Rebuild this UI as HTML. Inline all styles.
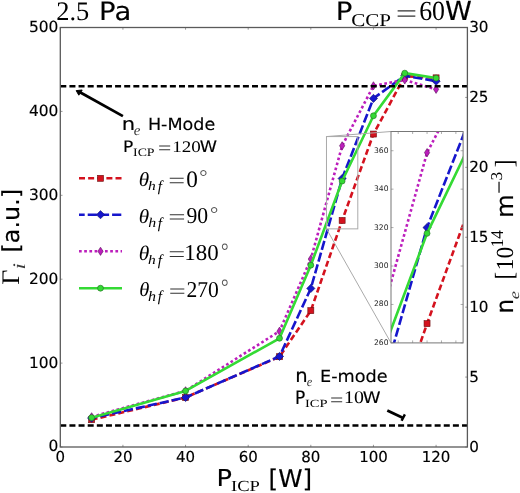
<!DOCTYPE html><html><head><meta charset="utf-8"><title>Ion flux vs ICP power</title><style>
html,body{margin:0;padding:0;background:#fff;width:520px;height:493px;overflow:hidden}
svg{display:block;text-rendering:geometricPrecision;filter:blur(0.4px)}
text.s{stroke:#000;stroke-width:0.15px}
.s{font-family:"DejaVu Sans","Liberation Sans",sans-serif}
.r{font-family:"Liberation Serif","DejaVu Serif",serif}
.i{font-family:"Liberation Serif","DejaVu Serif",serif;font-style:italic}
</style></head><body>
<svg width="520" height="493" viewBox="0 0 520 493">
<rect width="520" height="493" fill="#fff"/>
<defs><clipPath id="cm"><rect x="60.30" y="27.50" width="407.10" height="419.50"/></clipPath>
<clipPath id="ci"><rect x="391.00" y="131.50" width="72.10" height="211.40"/></clipPath></defs>
<path d="M60.30 447.00v-2.2M60.30 27.50v2.2M122.93 447.00v-2.2M122.93 27.50v2.2M185.56 447.00v-2.2M185.56 27.50v2.2M248.19 447.00v-2.2M248.19 27.50v2.2M310.82 447.00v-2.2M310.82 27.50v2.2M373.45 447.00v-2.2M373.45 27.50v2.2M436.08 447.00v-2.2M436.08 27.50v2.2M60.30 447.00h2.2M60.30 363.10h2.2M60.30 279.20h2.2M60.30 195.30h2.2M60.30 111.40h2.2M60.30 27.50h2.2M467.40 447.00h-2.2M467.40 377.08h-2.2M467.40 307.17h-2.2M467.40 237.25h-2.2M467.40 167.33h-2.2M467.40 97.42h-2.2M467.40 27.50h-2.2" stroke="#999" stroke-width="1" fill="none"/>
<g clip-path="url(#cm)">
<polyline points="91.62,419.73 185.56,397.50 279.51,356.72 310.82,310.66 342.14,220.47 373.45,134.05 404.77,76.16 436.08,77.84" fill="none" stroke="#d4121e" stroke-width="2.6" stroke-dasharray="6 3.13" stroke-dashoffset="0" stroke-linejoin="round"/>
<rect x="88.62" y="416.73" width="6.00" height="6.00" fill="#d4121e" stroke="#6a1010" stroke-width="0.6"/>
<rect x="182.56" y="394.50" width="6.00" height="6.00" fill="#d4121e" stroke="#6a1010" stroke-width="0.6"/>
<rect x="276.51" y="353.72" width="6.00" height="6.00" fill="#d4121e" stroke="#6a1010" stroke-width="0.6"/>
<rect x="307.82" y="307.66" width="6.00" height="6.00" fill="#d4121e" stroke="#6a1010" stroke-width="0.6"/>
<rect x="339.14" y="217.47" width="6.00" height="6.00" fill="#d4121e" stroke="#6a1010" stroke-width="0.6"/>
<rect x="370.45" y="131.05" width="6.00" height="6.00" fill="#d4121e" stroke="#6a1010" stroke-width="0.6"/>
<rect x="401.77" y="73.16" width="6.00" height="6.00" fill="#d4121e" stroke="#6a1010" stroke-width="0.6"/>
<rect x="433.08" y="74.84" width="6.00" height="6.00" fill="#d4121e" stroke="#6a1010" stroke-width="0.6"/>
<polyline points="91.62,418.05 185.56,397.50 279.51,356.39 310.82,288.43 342.14,178.52 373.45,98.40 404.77,75.74 436.08,81.20" fill="none" stroke="#1616cc" stroke-width="2.6" stroke-dasharray="9.2 3" stroke-dashoffset="3.5" stroke-linejoin="round"/>
<path d="M91.62 413.95L95.72 418.05L91.62 422.15L87.52 418.05Z" fill="#1616cc" stroke="#10106a" stroke-width="0.6"/>
<path d="M185.56 393.40L189.66 397.50L185.56 401.60L181.46 397.50Z" fill="#1616cc" stroke="#10106a" stroke-width="0.6"/>
<path d="M279.51 352.29L283.61 356.39L279.51 360.49L275.41 356.39Z" fill="#1616cc" stroke="#10106a" stroke-width="0.6"/>
<path d="M310.82 284.33L314.92 288.43L310.82 292.53L306.72 288.43Z" fill="#1616cc" stroke="#10106a" stroke-width="0.6"/>
<path d="M342.14 174.42L346.24 178.52L342.14 182.62L338.04 178.52Z" fill="#1616cc" stroke="#10106a" stroke-width="0.6"/>
<path d="M373.45 94.30L377.55 98.40L373.45 102.50L369.35 98.40Z" fill="#1616cc" stroke="#10106a" stroke-width="0.6"/>
<path d="M404.77 71.64L408.87 75.74L404.77 79.84L400.67 75.74Z" fill="#1616cc" stroke="#10106a" stroke-width="0.6"/>
<path d="M436.08 77.10L440.18 81.20L436.08 85.30L431.98 81.20Z" fill="#1616cc" stroke="#10106a" stroke-width="0.6"/>
<polyline points="91.62,416.80 185.56,390.79 279.51,331.22 310.82,259.06 342.14,145.80 373.45,85.81 404.77,79.94 436.08,89.33" fill="none" stroke="#bc1ebc" stroke-width="2.6" stroke-dasharray="2.7 2.5" stroke-dashoffset="0" stroke-linejoin="round"/>
<path d="M91.62 412.70L94.22 416.80L91.62 420.90L89.02 416.80Z" fill="#bc1ebc" stroke="#5a105a" stroke-width="0.6"/>
<path d="M185.56 386.69L188.16 390.79L185.56 394.89L182.96 390.79Z" fill="#bc1ebc" stroke="#5a105a" stroke-width="0.6"/>
<path d="M279.51 327.12L282.11 331.22L279.51 335.32L276.91 331.22Z" fill="#bc1ebc" stroke="#5a105a" stroke-width="0.6"/>
<path d="M310.82 254.96L313.42 259.06L310.82 263.16L308.22 259.06Z" fill="#bc1ebc" stroke="#5a105a" stroke-width="0.6"/>
<path d="M342.14 141.70L344.74 145.80L342.14 149.90L339.54 145.80Z" fill="#bc1ebc" stroke="#5a105a" stroke-width="0.6"/>
<path d="M373.45 81.71L376.05 85.81L373.45 89.91L370.85 85.81Z" fill="#bc1ebc" stroke="#5a105a" stroke-width="0.6"/>
<path d="M404.77 75.84L407.37 79.94L404.77 84.04L402.17 79.94Z" fill="#bc1ebc" stroke="#5a105a" stroke-width="0.6"/>
<path d="M436.08 85.23L438.68 89.33L436.08 93.43L433.48 89.33Z" fill="#bc1ebc" stroke="#5a105a" stroke-width="0.6"/>
<polyline points="91.62,417.63 185.56,390.95 279.51,338.27 310.82,265.19 342.14,181.04 373.45,115.76 404.77,73.14 436.08,78.09" fill="none" stroke="#34da34" stroke-width="2.6" stroke-linejoin="round"/>
<circle cx="91.62" cy="417.63" r="2.95" fill="#34da34" stroke="#2a7a2a" stroke-width="0.7"/>
<circle cx="185.56" cy="390.95" r="2.95" fill="#34da34" stroke="#2a7a2a" stroke-width="0.7"/>
<circle cx="279.51" cy="338.27" r="2.95" fill="#34da34" stroke="#2a7a2a" stroke-width="0.7"/>
<circle cx="310.82" cy="265.19" r="2.95" fill="#34da34" stroke="#2a7a2a" stroke-width="0.7"/>
<circle cx="342.14" cy="181.04" r="2.95" fill="#34da34" stroke="#2a7a2a" stroke-width="0.7"/>
<circle cx="373.45" cy="115.76" r="2.95" fill="#34da34" stroke="#2a7a2a" stroke-width="0.7"/>
<circle cx="404.77" cy="73.14" r="2.95" fill="#34da34" stroke="#2a7a2a" stroke-width="0.7"/>
<circle cx="436.08" cy="78.09" r="2.95" fill="#34da34" stroke="#2a7a2a" stroke-width="0.7"/>
<line x1="60.30" y1="86.23" x2="467.40" y2="86.23" stroke="#000" stroke-width="2.5" stroke-dasharray="6 3.13"/>
<line x1="60.30" y1="425.61" x2="467.40" y2="425.61" stroke="#000" stroke-width="2.5" stroke-dasharray="6 3.13"/>
</g>
<rect x="326.48" y="136.57" width="31.32" height="92.29" fill="none" stroke="#aaa" stroke-width="1"/>
<path d="M326.48 136.57L391.00 131.50M326.48 228.86L391.00 342.90" stroke="#aaa" stroke-width="1" fill="none"/>
<rect x="391.00" y="131.50" width="72.10" height="211.40" fill="#fff"/>
<g clip-path="url(#ci)">
<polyline points="-149.75,780.11 66.55,729.19 282.85,635.79 354.95,530.28 427.05,323.68 499.15,125.73 571.25,-6.87 643.35,-3.03" fill="none" stroke="#d4121e" stroke-width="2.6" stroke-dasharray="6 3.13" stroke-dashoffset="0"/>
<rect x="-152.75" y="777.11" width="6.00" height="6.00" fill="#d4121e" stroke="#6a1010" stroke-width="0.6"/>
<rect x="63.55" y="726.19" width="6.00" height="6.00" fill="#d4121e" stroke="#6a1010" stroke-width="0.6"/>
<rect x="279.85" y="632.79" width="6.00" height="6.00" fill="#d4121e" stroke="#6a1010" stroke-width="0.6"/>
<rect x="351.95" y="527.28" width="6.00" height="6.00" fill="#d4121e" stroke="#6a1010" stroke-width="0.6"/>
<rect x="424.05" y="320.68" width="6.00" height="6.00" fill="#d4121e" stroke="#6a1010" stroke-width="0.6"/>
<rect x="496.15" y="122.73" width="6.00" height="6.00" fill="#d4121e" stroke="#6a1010" stroke-width="0.6"/>
<rect x="568.25" y="-9.87" width="6.00" height="6.00" fill="#d4121e" stroke="#6a1010" stroke-width="0.6"/>
<rect x="640.35" y="-6.03" width="6.00" height="6.00" fill="#d4121e" stroke="#6a1010" stroke-width="0.6"/>
<polyline points="-149.75,776.27 66.55,729.19 282.85,635.02 354.95,479.35 427.05,227.59 499.15,44.06 571.25,-7.83 643.35,4.66" fill="none" stroke="#1616cc" stroke-width="2.6" stroke-dasharray="9.2 3" stroke-dashoffset="3.5"/>
<path d="M-149.75 772.17L-145.65 776.27L-149.75 780.37L-153.85 776.27Z" fill="#1616cc" stroke="#10106a" stroke-width="0.6"/>
<path d="M66.55 725.09L70.65 729.19L66.55 733.29L62.45 729.19Z" fill="#1616cc" stroke="#10106a" stroke-width="0.6"/>
<path d="M282.85 630.92L286.95 635.02L282.85 639.12L278.75 635.02Z" fill="#1616cc" stroke="#10106a" stroke-width="0.6"/>
<path d="M354.95 475.25L359.05 479.35L354.95 483.45L350.85 479.35Z" fill="#1616cc" stroke="#10106a" stroke-width="0.6"/>
<path d="M427.05 223.49L431.15 227.59L427.05 231.69L422.95 227.59Z" fill="#1616cc" stroke="#10106a" stroke-width="0.6"/>
<path d="M499.15 39.96L503.25 44.06L499.15 48.16L495.05 44.06Z" fill="#1616cc" stroke="#10106a" stroke-width="0.6"/>
<path d="M571.25 -11.93L575.35 -7.83L571.25 -3.73L567.15 -7.83Z" fill="#1616cc" stroke="#10106a" stroke-width="0.6"/>
<path d="M643.35 0.56L647.45 4.66L643.35 8.76L639.25 4.66Z" fill="#1616cc" stroke="#10106a" stroke-width="0.6"/>
<polyline points="-149.75,773.39 66.55,713.81 282.85,577.36 354.95,412.09 427.05,152.64 499.15,15.23 571.25,1.78 643.35,23.30" fill="none" stroke="#bc1ebc" stroke-width="2.6" stroke-dasharray="2.7 2.5" stroke-dashoffset="0"/>
<path d="M-149.75 769.29L-147.15 773.39L-149.75 777.49L-152.35 773.39Z" fill="#bc1ebc" stroke="#5a105a" stroke-width="0.6"/>
<path d="M66.55 709.71L69.15 713.81L66.55 717.91L63.95 713.81Z" fill="#bc1ebc" stroke="#5a105a" stroke-width="0.6"/>
<path d="M282.85 573.26L285.45 577.36L282.85 581.46L280.25 577.36Z" fill="#bc1ebc" stroke="#5a105a" stroke-width="0.6"/>
<path d="M354.95 407.99L357.55 412.09L354.95 416.19L352.35 412.09Z" fill="#bc1ebc" stroke="#5a105a" stroke-width="0.6"/>
<path d="M427.05 148.54L429.65 152.64L427.05 156.74L424.45 152.64Z" fill="#bc1ebc" stroke="#5a105a" stroke-width="0.6"/>
<path d="M499.15 11.13L501.75 15.23L499.15 19.33L496.55 15.23Z" fill="#bc1ebc" stroke="#5a105a" stroke-width="0.6"/>
<path d="M571.25 -2.32L573.85 1.78L571.25 5.88L568.65 1.78Z" fill="#bc1ebc" stroke="#5a105a" stroke-width="0.6"/>
<path d="M643.35 19.20L645.95 23.30L643.35 27.40L640.75 23.30Z" fill="#bc1ebc" stroke="#5a105a" stroke-width="0.6"/>
<polyline points="-149.75,775.31 66.55,714.20 282.85,593.51 354.95,426.11 427.05,233.36 499.15,83.84 571.25,-13.79 643.35,-2.45" fill="none" stroke="#34da34" stroke-width="2.6"/>
<circle cx="-149.75" cy="775.31" r="2.95" fill="#34da34" stroke="#2a7a2a" stroke-width="0.7"/>
<circle cx="66.55" cy="714.20" r="2.95" fill="#34da34" stroke="#2a7a2a" stroke-width="0.7"/>
<circle cx="282.85" cy="593.51" r="2.95" fill="#34da34" stroke="#2a7a2a" stroke-width="0.7"/>
<circle cx="354.95" cy="426.11" r="2.95" fill="#34da34" stroke="#2a7a2a" stroke-width="0.7"/>
<circle cx="427.05" cy="233.36" r="2.95" fill="#34da34" stroke="#2a7a2a" stroke-width="0.7"/>
<circle cx="499.15" cy="83.84" r="2.95" fill="#34da34" stroke="#2a7a2a" stroke-width="0.7"/>
<circle cx="571.25" cy="-13.79" r="2.95" fill="#34da34" stroke="#2a7a2a" stroke-width="0.7"/>
<circle cx="643.35" cy="-2.45" r="2.95" fill="#34da34" stroke="#2a7a2a" stroke-width="0.7"/>
</g>
<path d="M398.21 342.90v-2.5M398.21 131.50v2.5M412.63 342.90v-2.5M412.63 131.50v2.5M427.05 342.90v-2.5M427.05 131.50v2.5M441.47 342.90v-2.5M441.47 131.50v2.5M455.89 342.90v-2.5M455.89 131.50v2.5M391.00 342.90h2.5M463.10 342.90h-2.5M391.00 304.46h2.5M463.10 304.46h-2.5M391.00 266.03h2.5M463.10 266.03h-2.5M391.00 227.59h2.5M463.10 227.59h-2.5M391.00 189.15h2.5M463.10 189.15h-2.5M391.00 150.72h2.5M463.10 150.72h-2.5" stroke="#999" stroke-width="0.8" fill="none"/>
<rect x="391.00" y="131.50" width="72.10" height="211.40" fill="none" stroke="#777" stroke-width="1"/>
<text class="s" x="388.50" y="344.90" font-size="7.6" text-anchor="end" fill="#222" style="stroke:none">260</text>
<text class="s" x="388.50" y="306.46" font-size="7.6" text-anchor="end" fill="#222" style="stroke:none">280</text>
<text class="s" x="388.50" y="268.03" font-size="7.6" text-anchor="end" fill="#222" style="stroke:none">300</text>
<text class="s" x="388.50" y="229.59" font-size="7.6" text-anchor="end" fill="#222" style="stroke:none">320</text>
<text class="s" x="388.50" y="191.15" font-size="7.6" text-anchor="end" fill="#222" style="stroke:none">340</text>
<text class="s" x="388.50" y="152.72" font-size="7.6" text-anchor="end" fill="#222" style="stroke:none">360</text>
<rect x="60.30" y="27.50" width="407.10" height="419.50" fill="none" stroke="#5a5a5a" stroke-width="1.3"/>
<text class="s" x="58.4" y="451.40" font-size="15.4" text-anchor="end">0</text>
<text class="s" x="58.4" y="367.50" font-size="15.4" text-anchor="end">100</text>
<text class="s" x="58.4" y="283.60" font-size="15.4" text-anchor="end">200</text>
<text class="s" x="58.4" y="199.70" font-size="15.4" text-anchor="end">300</text>
<text class="s" x="58.4" y="115.80" font-size="15.4" text-anchor="end">400</text>
<text class="s" x="58.4" y="31.90" font-size="15.4" text-anchor="end">500</text>
<text class="s" x="60.30" y="462" font-size="15" text-anchor="middle">0</text>
<text class="s" x="122.93" y="462" font-size="15" text-anchor="middle">20</text>
<text class="s" x="185.56" y="462" font-size="15" text-anchor="middle">40</text>
<text class="s" x="248.19" y="462" font-size="15" text-anchor="middle">60</text>
<text class="s" x="310.82" y="462" font-size="15" text-anchor="middle">80</text>
<text class="s" x="373.45" y="462" font-size="15" text-anchor="middle">100</text>
<text class="s" x="436.08" y="462" font-size="15" text-anchor="middle">120</text>
<text class="s" x="469.2" y="451.70" font-size="15.2">0</text>
<text class="s" x="469.2" y="381.78" font-size="15.2">5</text>
<text class="s" x="469.2" y="311.87" font-size="15.2">10</text>
<text class="s" x="469.2" y="241.95" font-size="15.2">15</text>
<text class="s" x="469.2" y="172.03" font-size="15.2">20</text>
<text class="s" x="469.2" y="102.12" font-size="15.2">25</text>
<text class="s" x="469.2" y="32.20" font-size="15.2">30</text>
<text class="r" transform="translate(56.24,19.67) scale(0.9799,0.9902)" font-size="27">2.5</text>
<text class="s" transform="translate(99.07,19.93) scale(1.0758,0.9932)" font-size="25.5">Pa</text>
<text class="s" transform="translate(335.83,19.92) scale(1.0833,0.9943)" font-size="25.5">P</text>
<text class="r" transform="translate(351.20,26.31) scale(1.1707,1.0052)" font-size="18">CCP</text>
<text class="r" transform="translate(395.76,22.25) scale(1.4620,0.9935)" font-size="26" fill="#333">=</text>
<text class="r" transform="translate(419.15,20.04) scale(0.9955,1.0644)" font-size="26">60</text>
<text class="s" transform="translate(445.03,19.90) scale(1.0652,1.0333)" font-size="25.5">W</text>
<text class="s" transform="translate(216.42,486.07) scale(1.0909,0.9860)" font-size="23.5">P</text>
<text class="r" transform="translate(231.02,491.06) scale(1.0914,0.9087)" font-size="17">ICP</text>
<text class="s" transform="translate(268.60,486.92) scale(1.0479,1.0305)" font-size="23.5">[W]</text>
<text class="r" transform="rotate(-90) translate(-284.87,18.88) scale(1.0950,1.0540)" font-size="24">Γ</text>
<text class="i" transform="rotate(-90) translate(-269.44,24.94) scale(1.4560,1.1006)" font-size="16" fill="#3a3a3a">i</text>
<text class="s" transform="rotate(-90) translate(-252.47,18.62) scale(1.0400,1.0173)" font-size="23">[a.u.]</text>
<text class="s" transform="rotate(-90) translate(-313.58,513.10) scale(1.0400,1.0917)" font-size="22">n</text>
<text class="i" transform="rotate(-90) translate(-299.37,518.64) scale(1.1433,0.8842)" font-size="16" fill="#3a3a3a">e</text>
<text class="r" transform="rotate(-90) translate(-279.44,513.24) scale(0.9504,1.0910)" font-size="24">[</text>
<text class="r" transform="rotate(-90) translate(-270.18,513.40) scale(0.9789,1.0247)" font-size="24">10</text>
<text class="r" transform="rotate(-90) translate(-247.30,502.93) scale(1.0786,1.1178)" font-size="16">14</text>
<text class="s" transform="rotate(-90) translate(-218.09,513.43) scale(1.1048,1.0766)" font-size="22">m</text>
<text class="r" transform="rotate(-90) translate(-194.00,506.85) scale(1.5000,1.5000)" font-size="16">−</text>
<text class="r" transform="rotate(-90) translate(-180.58,501.80) scale(1.0833,1.0273)" font-size="16">3</text>
<text class="r" transform="rotate(-90) translate(-167.37,513.30) scale(0.9504,1.0879)" font-size="24">]</text>
<text class="s" transform="translate(121.81,129.90) scale(1.2429,1.0400)" font-size="17">n</text>
<text class="i" transform="translate(133.85,134.91) scale(1.2476,1.2408)" font-size="12" fill="#3a3a3a">e</text>
<text class="s" transform="translate(147.90,129.61) scale(1.0333,0.9871)" font-size="17">H-Mode</text>
<text class="s" transform="translate(123.00,151.73) scale(1.0000,0.9270)" font-size="17">P</text>
<text class="r" transform="translate(133.02,155.89) scale(1.1542,0.9474)" font-size="12">ICP</text>
<text class="r" transform="translate(158.09,154.08) scale(1.3125,1.0200)" font-size="18" fill="#333">=</text>
<text class="r" transform="translate(172.18,152.30) scale(1.0583,0.8923)" font-size="18">120</text>
<text class="s" transform="translate(199.67,151.80) scale(1.0267,0.9231)" font-size="17">W</text>
<text class="s" transform="translate(295.18,381.78) scale(1.1531,1.1145)" font-size="17">n</text>
<text class="i" transform="translate(306.70,386.20) scale(1.0400,1.1000)" font-size="12" fill="#3a3a3a">e</text>
<text class="s" transform="translate(320.02,382.09) scale(1.0387,0.9905)" font-size="17">E-mode</text>
<text class="s" transform="translate(295.00,403.57) scale(1.0000,1.0911)" font-size="17">P</text>
<text class="r" transform="translate(305.06,407.00) scale(1.2037,0.9161)" font-size="12">ICP</text>
<text class="r" transform="translate(330.09,405.68) scale(1.3125,1.0200)" font-size="18" fill="#333">=</text>
<text class="r" transform="translate(344.12,403.13) scale(1.1029,0.9902)" font-size="18">10</text>
<text class="s" transform="translate(362.73,403.20) scale(1.0607,0.9231)" font-size="17">W</text>
<text class="i" transform="translate(138.68,185.53) scale(0.9642,0.9064)" font-size="22">θ</text>
<text class="i" transform="translate(148.11,190.14) scale(1.0003,0.8472)" font-size="15.5">h</text>
<text class="i" transform="translate(157.81,190.96) scale(0.9786,0.9786)" font-size="15.5">f</text>
<text class="r" transform="translate(168.36,187.83) scale(1.3594,1.0267)" font-size="22" fill="#333">=</text>
<text class="r" transform="translate(186.14,186.50) scale(1.0556,1.0786)" font-size="22">0</text>
<text class="r" transform="translate(199.33,182.61) scale(0.9429,0.8857)" font-size="22" fill="#555">°</text>
<text class="i" transform="translate(138.68,222.54) scale(0.9642,0.9064)" font-size="22">θ</text>
<text class="i" transform="translate(148.21,226.59) scale(1.0269,0.8698)" font-size="15.5">h</text>
<text class="i" transform="translate(157.81,227.76) scale(0.9786,0.9786)" font-size="15.5">f</text>
<text class="r" transform="translate(168.14,223.61) scale(1.3947,0.9642)" font-size="22" fill="#333">=</text>
<text class="r" transform="translate(186.39,222.95) scale(0.9874,1.0335)" font-size="22">90</text>
<text class="r" transform="translate(210.01,220.03) scale(0.9429,0.8857)" font-size="22" fill="#555">°</text>
<text class="i" transform="translate(138.82,259.60) scale(0.9778,0.9400)" font-size="22">θ</text>
<text class="i" transform="translate(148.11,264.24) scale(1.0003,0.8472)" font-size="15.5">h</text>
<text class="i" transform="translate(157.81,264.66) scale(0.9786,0.9786)" font-size="15.5">f</text>
<text class="r" transform="translate(168.30,262.39) scale(1.3691,1.0780)" font-size="22" fill="#333">=</text>
<text class="r" transform="translate(184.37,260.48) scale(1.0424,1.0300)" font-size="22">180</text>
<text class="r" transform="translate(221.04,257.50) scale(0.8571,1.0000)" font-size="22" fill="#555">°</text>
<text class="i" transform="translate(139.24,296.08) scale(0.9365,0.9149)" font-size="22">θ</text>
<text class="i" transform="translate(148.07,300.70) scale(1.0333,0.9300)" font-size="15.5">h</text>
<text class="i" transform="translate(157.81,301.36) scale(0.9786,0.9786)" font-size="15.5">f</text>
<text class="r" transform="translate(168.77,297.69) scale(1.3730,0.9449)" font-size="22" fill="#333">=</text>
<text class="r" transform="translate(186.39,296.89) scale(0.9827,1.0300)" font-size="22">270</text>
<text class="r" transform="translate(221.04,294.20) scale(0.8571,1.0000)" font-size="22" fill="#555">°</text>
<path d="M122.9 116.1L80 92.3" stroke="#000" stroke-width="2.8" fill="none"/>
<path d="M76.2 90.6L82.2 90.0L78.8 95.2Z" fill="#000" stroke="#000" stroke-width="1"/>
<path d="M387.3 410.4L403.2 417.9" stroke="#000" stroke-width="2.8" fill="none"/>
<path d="M401.6 420.8L404.9 414.4" stroke="#000" stroke-width="2.4" fill="none"/>
<line x1="79" y1="178.3" x2="122" y2="178.3" stroke="#d4121e" stroke-width="2.6" stroke-dasharray="6 3.13" stroke-dashoffset="0"/>
<rect x="97.50" y="175.30" width="6.00" height="6.00" fill="#d4121e" stroke="#6a1010" stroke-width="0.6"/>
<line x1="79" y1="214.7" x2="122" y2="214.7" stroke="#1616cc" stroke-width="2.6" stroke-dasharray="9.2 3" stroke-dashoffset="3.5"/>
<path d="M100.50 210.60L104.60 214.70L100.50 218.80L96.40 214.70Z" fill="#1616cc" stroke="#10106a" stroke-width="0.6"/>
<line x1="79" y1="251.3" x2="122" y2="251.3" stroke="#bc1ebc" stroke-width="2.6" stroke-dasharray="2.7 2.5" stroke-dashoffset="0"/>
<path d="M100.50 247.20L103.10 251.30L100.50 255.40L97.90 251.30Z" fill="#bc1ebc" stroke="#5a105a" stroke-width="0.6"/>
<line x1="79" y1="288.2" x2="122" y2="288.2" stroke="#34da34" stroke-width="2.6"/>
<circle cx="100.50" cy="288.20" r="2.95" fill="#34da34" stroke="#2a7a2a" stroke-width="0.7"/>
</svg></body></html>
